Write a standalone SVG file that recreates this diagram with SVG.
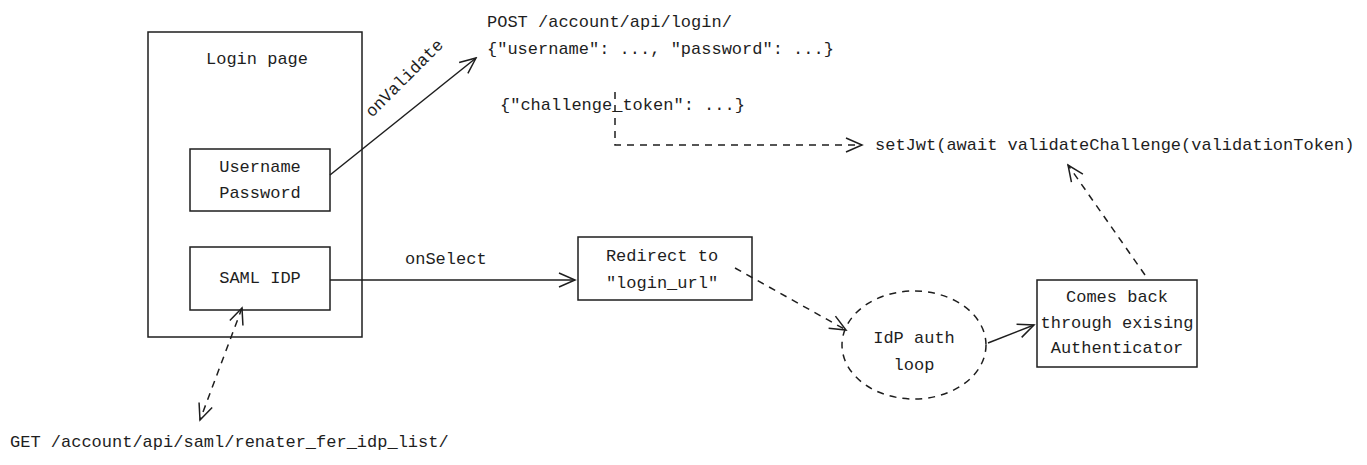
<svg xmlns="http://www.w3.org/2000/svg" width="1367" height="465" viewBox="0 0 1367 465">
<style>
text{font-family:"Liberation Mono",monospace;font-size:17px;fill:#1e1e1e}
.c{text-anchor:middle}
.b{fill:none;stroke:#1e1e1e;stroke-width:1.5}
.d{stroke-dasharray:7 6}
</style>
<defs>
<marker id="a" viewBox="0 0 20 20" refX="18" refY="10" markerWidth="20" markerHeight="20" markerUnits="userSpaceOnUse" orient="auto-start-reverse">
<path d="M2,3 L18,10 L2,17" fill="none" stroke="#1e1e1e" stroke-width="1.5"/>
</marker>
</defs>
<rect width="1367" height="465" fill="#fff"/>
<g id="login-page"><rect class="b" x="148" y="32" width="214" height="305"/><text class="c" x="257" y="64">Login page</text></g>
<g id="userpass"><rect class="b" x="190" y="149" width="140" height="62"/><text class="c" x="260" y="172">Username</text><text class="c" x="260" y="198">Password</text></g>
<g id="saml"><rect class="b" x="190" y="247" width="140" height="63"/><text class="c" x="260" y="283">SAML IDP</text></g>
<g id="post"><text x="487" y="27">POST /account/api/login/</text><text x="487" y="54">{"username": ..., "password": ...}</text></g>
<g id="challenge"><text x="500" y="110">{"challenge_token": ...}</text></g>
<g id="setjwt"><text x="875" y="150">setJwt(await validateChallenge(validationToken)</text></g>
<g id="redirect"><rect class="b" x="578" y="237" width="174" height="63"/><text class="c" x="662" y="261">Redirect to</text><text class="c" x="662" y="288">"login_url"</text></g>
<g id="idp"><ellipse class="b d" cx="914" cy="345" rx="72" ry="54"/><text class="c" x="914" y="343">IdP auth</text><text class="c" x="914" y="370">loop</text></g>
<g id="comesback"><rect class="b" x="1037" y="280" width="160" height="87"/><text class="c" x="1117" y="302">Comes back</text><text class="c" x="1117" y="328">through exising</text><text class="c" x="1117" y="353">Authenticator</text></g>
<g id="get"><text x="10" y="447">GET /account/api/saml/renater_fer_idp_list/</text></g>
<g id="connectors">
<path class="b" d="M330,175 L476,58" marker-end="url(#a)"/>
<text x="0" y="0" transform="translate(372,118) rotate(-45)">onValidate</text>
<path class="b d" d="M615,92 L615,145 L862,145" marker-end="url(#a)"/>
<path class="b" d="M330,280 L575,280" marker-end="url(#a)"/>
<text x="405" y="264">onSelect</text>
<path class="b d" d="M735,268 L846,330" marker-end="url(#a)"/>
<path class="b" d="M988,343 L1034,325" marker-end="url(#a)"/>
<path class="b d" d="M1145,275 L1068,165" marker-end="url(#a)"/>
<path class="b d" d="M242,308 L200,420" marker-start="url(#a)" marker-end="url(#a)"/>
</g>
</svg>
